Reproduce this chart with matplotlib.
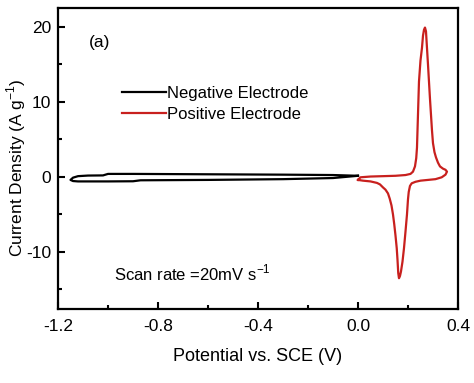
import numpy as np
import matplotlib
matplotlib.use("Agg")
import matplotlib.pyplot as plt
from matplotlib.ticker import MultipleLocator

plt.rcParams['font.family'] = ['Liberation Sans', 'DejaVu Sans']
plt.rcParams['axes.unicode_minus'] = False
plt.rcParams['mathtext.fontset'] = 'custom'
plt.rcParams['mathtext.rm'] = 'Liberation Sans'

# Negative electrode CV loop (potential V, current A/g)
neg_v = [0.00, -0.10, -0.30, -0.60, -0.90, -1.00, -1.02, -1.08, -1.12, -1.14, -1.15,
         -1.14, -1.12, -1.00, -0.90, -0.87, -0.60, -0.30, -0.10, 0.00]
neg_i = [0.15, 0.25, 0.30, 0.35, 0.40, 0.40, 0.20, 0.18, 0.10, -0.10, -0.40,
         -0.55, -0.60, -0.60, -0.58, -0.45, -0.40, -0.30, -0.15, 0.15]

# Positive electrode CV loop
pos_v = [0.000, 0.010, 0.050, 0.100, 0.150, 0.190, 0.210, 0.220, 0.228, 0.233, 0.236,
         0.240, 0.244, 0.250, 0.256, 0.260, 0.264, 0.268, 0.272, 0.276, 0.280, 0.284,
         0.288, 0.292, 0.296, 0.300, 0.306, 0.312, 0.320, 0.328, 0.340, 0.350, 0.356,
         0.350, 0.335, 0.310, 0.280, 0.250, 0.230, 0.215, 0.208, 0.203, 0.200, 0.196,
         0.190, 0.184, 0.178, 0.172, 0.168, 0.164, 0.161, 0.158, 0.155, 0.150, 0.145,
         0.140, 0.134, 0.127, 0.120, 0.110, 0.100, 0.088, 0.076, 0.050, 0.020, 0.000]
pos_i = [-0.40, -0.05, 0.05, 0.10, 0.15, 0.25, 0.40, 0.70, 1.40, 2.50, 3.90,
         8.30, 12.7, 15.5, 17.2, 18.8, 19.6, 19.9, 19.4, 17.2, 15.0, 12.7,
         10.4, 8.30, 6.20, 4.50, 3.30, 2.60, 1.90, 1.40, 1.10, 0.95, 0.70,
         0.30, -0.05, -0.30, -0.40, -0.50, -0.65, -0.85, -1.20, -2.00, -3.00, -5.00,
         -7.30, -9.50, -11.3, -12.6, -13.2, -13.5, -12.8, -11.0, -9.50, -7.80, -6.30,
         -5.00, -3.80, -2.90, -2.20, -1.70, -1.40, -1.00, -0.80, -0.60, -0.50, -0.40]

fig = plt.figure(figsize=(4.74, 3.83), dpi=100)
ax = fig.add_axes([0.1224, 0.1932, 0.8438, 0.7858])

ax.plot(neg_v, neg_i, color='black', lw=1.6, label='Negative Electrode')
ax.plot(pos_v, pos_i, color='#c8201e', lw=1.6, label='Positive Electrode')

ax.set_xlim(-1.2, 0.4)
ax.set_ylim(-17.6, 22.5)
ax.xaxis.set_minor_locator(MultipleLocator(0.2))
ax.yaxis.set_minor_locator(MultipleLocator(5))
ax.set_xticks([-1.2, -0.8, -0.4, 0.0, 0.4])
ax.set_xticklabels(['-1.2', '-0.8', '-0.4', '0.0', '0.4'])
ax.set_yticks([-10, 0, 10, 20])
ax.set_yticklabels(['-10', '0', '10', '20'])
ax.tick_params(which='both', direction='in', top=False, right=False, labelsize=12.5, width=1.5)
ax.tick_params(which='major', length=5, pad=7)
ax.tick_params(axis='y', which='major', pad=5)
ax.tick_params(which='minor', length=3)
for s in ax.spines.values():
    s.set_linewidth(1.6)

ax.set_xlabel('Potential vs. SCE (V)', fontsize=13, labelpad=10)
fig.text(16 / 474, 1 - 168 / 383, 'Current Density (A g$^{\\mathregular{-1}}$)', fontsize=12.5,
         rotation=90, ha='center', va='center')

ax.text(-1.075, 17.9, '(a)', fontsize=12.5, va='center')
ax.text(-0.975, -12.8, 'Scan rate =20mV s$^{\\mathregular{-1}}$', fontsize=12, va='center')

ax.legend(loc='upper left', bbox_to_anchor=(0.14, 0.77), frameon=False, fontsize=12,
          handlelength=2.6, handletextpad=0.1, labelspacing=0.4, borderpad=0)

fig.savefig('out.png', dpi=100)
